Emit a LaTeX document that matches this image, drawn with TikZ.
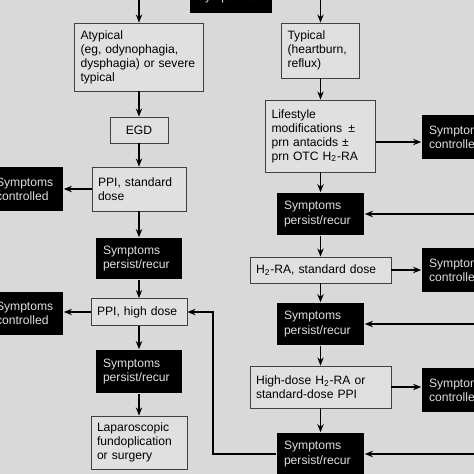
\documentclass[tikz,border=0pt]{standalone}
\usepackage{fontspec}
\setmainfont{Liberation Sans}
\usetikzlibrary{arrows.meta,positioning}
\definecolor{paper}{HTML}{D9D9D9}
\definecolor{boxfill}{HTML}{E0E0E0}

\begin{document}
\begin{tikzpicture}[x=0.02cm, y=-0.02cm, >={Stealth[length=4.6pt,width=3.6pt]}, line width=0.9pt,
  wbox/.style={draw=black!75, line width=0.5pt, fill=boxfill, inner xsep=0.12cm, inner ysep=0pt,
    align=left, font=\fontsize{6.9}{8}\selectfont},
  bbox/.style={fill=black, text=black!12, inner xsep=0.14cm, inner ysep=0pt,
    align=left, font=\fontsize{6.9}{8}\selectfont}]

  % frame and background
  \useasboundingbox (0,0) rectangle (474,474);
  \clip (0,0) rectangle (474,474);
  \fill[paper] (0,0) rectangle (474,474);

  % left branch
  \node[bbox, text width=1.36cm, minimum height=0.6cm] (top) at (231,-2) {Symptoms};
  \node[wbox, text width=2.34cm, minimum height=1.36cm] (atyp) at (139,57) {Atypical\\(eg, odynophagia,\\dysphagia) or severe\\typical};
  \node[wbox, text width=0.92cm, minimum height=0.52cm, align=center] (egd) at (139,130) {EGD};
  \node[wbox, text width=1.64cm, minimum height=0.88cm] (ppis) at (139,189) {PPI, standard\\dose};
  \node[bbox, text width=1.2cm, minimum height=0.88cm] (ctrlA) at (26,189) {Symptoms\\controlled};
  \node[bbox, text width=1.44cm, minimum height=0.82cm] (persA) at (139,258.5) {Symptoms\\persist/recur};
  \node[wbox, text width=1.68cm, minimum height=0.54cm] (ppih) at (139,312) {PPI, high dose};
  \node[bbox, text width=1.2cm, minimum height=0.86cm] (ctrlB) at (26,313) {Symptoms\\controlled};
  \node[bbox, text width=1.44cm, minimum height=0.86cm] (persB) at (139,371.5) {Symptoms\\persist/recur};
  \node[wbox, text width=1.68cm, minimum height=1.06cm] (lap) at (139,442.5) {Laparoscopic\\fundoplication\\or surgery};

  % right branch
  \node[wbox, text width=1.32cm, minimum height=1.1cm] (typ) at (320.5,50.5) {Typical\\(heartburn,\\reflux)};
  \node[wbox, text width=1.96cm, minimum height=1.44cm] (life) at (320.5,136) {Lifestyle\\modifications\enspace±\\prn antacids ±\\prn OTC H\textsubscript{2}-RA};
  \node[bbox, text width=1.44cm, minimum height=0.88cm] (ctrlC) at (465,137) {Symptoms\\controlled};
  \node[bbox, text width=1.46cm, minimum height=0.84cm] (persC) at (320.5,214) {Symptoms\\persist/recur};
  \node[wbox, text width=2.58cm, minimum height=0.52cm] (h2ra) at (320.5,270) {H\textsubscript{2}-RA, standard dose};
  \node[bbox, text width=1.44cm, minimum height=0.88cm] (ctrlD) at (465,270) {Symptoms\\controlled};
  \node[bbox, text width=1.46cm, minimum height=0.84cm] (persD) at (320.5,324) {Symptoms\\persist/recur};
  \node[wbox, text width=2.58cm, minimum height=0.84cm] (hdose) at (320.5,387) {High-dose H\textsubscript{2}-RA or\\standard-dose PPI};
  \node[bbox, text width=1.44cm, minimum height=0.88cm] (ctrlE) at (465,390) {Symptoms\\controlled};
  \node[bbox, text width=1.46cm, minimum height=0.84cm] (persE) at (320.5,454) {Symptoms\\persist/recur};

  % free ends
  \coordinate (inA) at (139,-20);
  \coordinate (inB) at (320.5,-20);
  \coordinate (fromC) at (520,214);
  \coordinate (fromD) at (520,324);
  \coordinate (fromE) at (520,454);
  \coordinate (back) at (213,312);
  \coordinate (lifeout) at ([yshift=-0.12cm]life.east);

  % arrows
  \draw[->] (inA) -- (atyp);
  \draw[->] (atyp) -- (egd);
  \draw[->] (egd) -- (ppis);
  \draw[->] (ppis) -- (ctrlA);
  \draw[->] (ppis) -- (persA);
  \draw[->] (persA) -- (ppih);
  \draw[->] (ppih.west) -- (ctrlB.east |- ppih.west);
  \draw[->] (ppih) -- (persB);
  \draw[->] (persB) -- (lap);
  \draw[->] (inB) -- (typ);
  \draw[->] (typ) -- (life);
  \draw[->] (lifeout) -- (ctrlC.west |- lifeout);
  \draw[->] (life) -- (persC);
  \draw[->] (fromC) -- (persC);
  \draw[->] (persC) -- (h2ra);
  \draw[->] (h2ra.east) -- (ctrlD.west |- h2ra.east);
  \draw[->] (h2ra) -- (persD);
  \draw[->] (fromD) -- (persD);
  \draw[->] (persD) -- (hdose);
  \draw[->] (hdose.east) -- (ctrlE.west |- hdose.east);
  \draw[->] (hdose) -- (persE);
  \draw[->] (fromE) -- (persE);
  \draw[->] (persE.west) -| (back) -- (ppih.east);
\end{tikzpicture}
\end{document}
